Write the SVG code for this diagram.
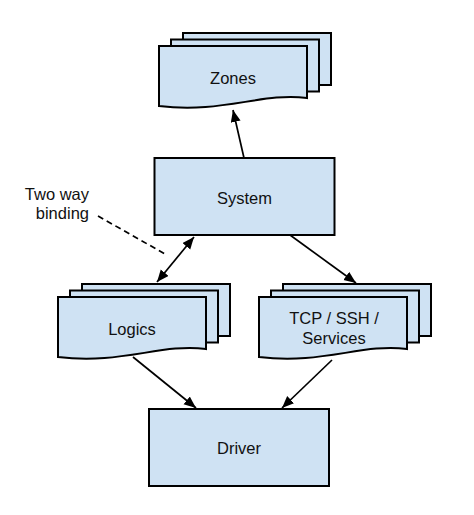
<svg xmlns="http://www.w3.org/2000/svg" width="474" height="515" viewBox="0 0 474 515">
<style>
.shape{fill:#cfe2f3;stroke:#000;stroke-width:2;stroke-linejoin:miter}
.lbl{font-family:"Liberation Sans",Arial,sans-serif;font-size:16.5px;fill:#111;text-anchor:middle}
.note{font-family:"Liberation Sans",Arial,sans-serif;font-size:16.5px;fill:#111;text-anchor:end}
.conn{stroke:#000;stroke-width:1.7;fill:none}
.dash{stroke:#000;stroke-width:1.7;fill:none;stroke-dasharray:6 4}
</style>
<defs>
<marker id="ah" markerUnits="userSpaceOnUse" markerWidth="13" markerHeight="11" refX="12" refY="5" orient="auto-start-reverse">
<path d="M0,0 L12,5 L0,10 z" fill="#000"/>
</marker>
</defs>
<rect width="474" height="515" fill="#fff"/>

<g id="zones">
<rect class="shape" x="183" y="33" width="148" height="52"/>
<rect class="shape" x="171" y="39.5" width="148" height="52"/>
<path class="shape" d="M159,46 H307 V98 C262,92 222,114 159,106 Z"/>
<text class="lbl" x="233" y="84">Zones</text>
</g>

<g id="system">
<rect class="shape" x="154.5" y="158" width="180" height="77"/>
<text class="lbl" x="244.5" y="204">System</text>
</g>

<g id="logics">
<rect class="shape" x="82" y="284" width="148" height="52"/>
<rect class="shape" x="70" y="290.5" width="148" height="52"/>
<path class="shape" d="M58,297 H206 V349 C161,343 121,365 58,357 Z"/>
<text class="lbl" x="132" y="335">Logics</text>
</g>

<g id="services">
<rect class="shape" x="283" y="284" width="148" height="52"/>
<rect class="shape" x="271" y="290.5" width="148" height="52"/>
<path class="shape" d="M259,297 H407 V349 C362,343 322,365 259,357 Z"/>
<text class="lbl" x="334" y="324">TCP / SSH /</text>
<text class="lbl" x="334" y="344">Services</text>
</g>

<g id="driver">
<rect class="shape" x="149" y="409" width="180" height="77"/>
<text class="lbl" x="239" y="454">Driver</text>
</g>

<g id="note">
<text class="note" x="89" y="200">Two way</text>
<text class="note" x="89" y="219">binding</text>
</g>

<g id="connectors">
<line class="conn" x1="244" y1="158" x2="233" y2="110" marker-end="url(#ah)"/>
<line class="conn" x1="194" y1="237" x2="157" y2="282" marker-start="url(#ah)" marker-end="url(#ah)"/>
<line class="conn" x1="290" y1="235" x2="356" y2="283" marker-end="url(#ah)"/>
<line class="conn" x1="133" y1="357" x2="196" y2="408" marker-end="url(#ah)"/>
<line class="conn" x1="332" y1="360" x2="282" y2="408" marker-end="url(#ah)"/>
<line class="dash" x1="98" y1="216" x2="165" y2="254"/>
</g>
</svg>
